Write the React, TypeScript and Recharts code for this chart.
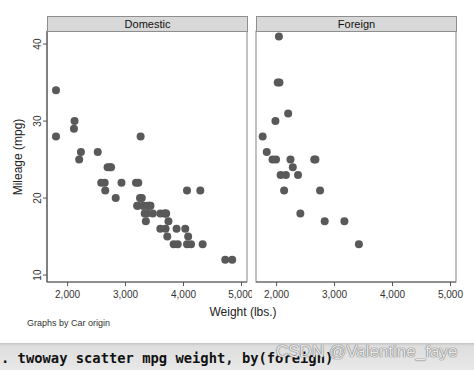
import React from 'react';
import { ScatterChart, Scatter, XAxis, YAxis, ReferenceArea } from 'recharts';

// Stata auto.dta, split by origin
const domesticWeight = [
  2930, 3350, 2640, 3250, 4080, 3670, 2230, 3280, 3880, 3400, 4330, 3900, 4290,
  2110, 3690, 3180, 3220, 2750, 3430, 2120, 3600, 3600, 3740, 1800, 2650, 4840,
  4720, 3830, 2580, 4060, 3720, 3370, 4130, 2830, 4060, 3310, 3300, 3690, 3370,
  2730, 4030, 3260, 1800, 2200, 2520, 3330, 3700, 3470, 3210, 3200, 3420, 2690,
];
const domesticMpg = [
  22, 17, 22, 20, 15, 18, 26, 20, 16, 19, 14, 14, 21,
  29, 16, 22, 22, 24, 19, 30, 18, 16, 17, 28, 21, 12,
  12, 14, 22, 14, 15, 18, 14, 20, 21, 19, 19, 18, 19,
  24, 16, 28, 34, 25, 26, 18, 18, 18, 19, 19, 19, 24,
];
const foreignWeight = [
  2830, 2070, 2650, 2370, 2020, 2280, 2750, 2130, 2240, 1760, 1980,
  3420, 1830, 2050, 2410, 2200, 2670, 2160, 2040, 1930, 1990, 3170,
];
const foreignMpg = [
  17, 23, 25, 23, 35, 24, 21, 21, 25, 28, 30,
  14, 26, 35, 18, 31, 25, 23, 41, 25, 25, 17,
];
const panelNames = ['Domestic', 'Foreign'];
const xTicks = [2000, 3000, 4000, 5000];
const yTicks = [10, 20, 30, 40];

const X_DOMAIN: [number, number] = [1645, 5095];
const Y_DOMAIN: [number, number] = [9.1, 41.7];
const FONT = '"Liberation Sans", Arial, sans-serif';
const DOT = '#595959';
const AXIS = '#555';

const domesticData = domesticWeight.map((w, i) => ({ weight: w, mpg: domesticMpg[i] }));
const foreignData = foreignWeight.map((w, i) => ({ weight: w, mpg: foreignMpg[i] }));

const Dot = (p: any) => <circle cx={p.cx} cy={p.cy} r={4} fill={DOT} />;

const YTick = (props: any) => {
  const { x, y, payload } = props;
  return (
    <text
      x={x}
      y={y}
      transform={`rotate(-90 ${x} ${y})`}
      textAnchor="middle"
      fontSize={10}
      fontFamily={FONT}
      fill="#333"
    >
      {payload.value}
    </text>
  );
};

const Header: React.FC<{ left: number; name: string }> = ({ left, name }) => (
  <div
    style={{
      position: 'absolute',
      left,
      top: 16,
      width: 201,
      height: 16,
      boxSizing: 'border-box',
      border: '1px solid #8e8e8e',
      background: '#d8d8d8',
      fontFamily: FONT,
      fontSize: 11,
      lineHeight: '14px',
      textAlign: 'center',
      color: '#111',
    }}
  >
    {name}
  </div>
);

const Panel: React.FC<{ data: { weight: number; mpg: number }[]; showY: boolean }> = ({ data, showY }) => (
  <ScatterChart
    width={showY ? 252 : 225}
    height={320}
    margin={{ top: 31, right: showY ? 5 : 15, bottom: 0, left: showY ? 0 : 10 }}
  >
    <ReferenceArea
      x1={X_DOMAIN[0]}
      x2={X_DOMAIN[1]}
      y1={Y_DOMAIN[0]}
      y2={Y_DOMAIN[1]}
      fill="none"
      stroke="#9a9a9a"
      strokeWidth={1.2}
    />
    <XAxis
      type="number"
      dataKey="weight"
      domain={X_DOMAIN}
      ticks={xTicks}
      allowDataOverflow
      height={38}
      tickSize={4}
      tickMargin={5}
      axisLine={{ stroke: AXIS, strokeWidth: 1.2 }}
      tickLine={{ stroke: AXIS }}
      tick={{ fontSize: 10, fill: '#333', fontFamily: FONT }}
      tickFormatter={(v: number) => v.toLocaleString('en-US')}
    />
    <YAxis
      type="number"
      dataKey="mpg"
      domain={Y_DOMAIN}
      ticks={yTicks}
      allowDataOverflow
      hide={!showY}
      width={47}
      tickSize={4}
      tickMargin={2}
      axisLine={{ stroke: AXIS, strokeWidth: 1.2 }}
      tickLine={{ stroke: AXIS }}
      tick={<YTick />}
    />
    <Scatter data={data} shape={Dot} isAnimationActive={false} />
  </ScatterChart>
);

export default function App() {
  return (
    <div style={{ position: 'absolute', left: 0, top: 0, width: 474, height: 370, background: '#fff', overflow: 'hidden' }}>
      <div style={{ position: 'absolute', left: 0, top: 0 }}>
        <Panel data={domesticData} showY />
      </div>
      <div style={{ position: 'absolute', left: 246, top: 0 }}>
        <Panel data={foreignData} showY={false} />
      </div>
      <Header left={47} name={panelNames[0]} />
      <Header left={256} name={panelNames[1]} />
      <div
        style={{
          position: 'absolute',
          left: 18,
          top: 157,
          transform: 'translate(-50%, -50%) rotate(-90deg)',
          whiteSpace: 'nowrap',
          fontFamily: FONT,
          fontSize: 12,
          color: '#222',
        }}
      >
        Mileage (mpg)
      </div>
      <div
        style={{
          position: 'absolute',
          left: 243,
          top: 312,
          transform: 'translate(-50%, -50%)',
          whiteSpace: 'nowrap',
          fontFamily: FONT,
          fontSize: 12,
          color: '#222',
        }}
      >
        Weight (lbs.)
      </div>
      <div
        style={{
          position: 'absolute',
          left: 27,
          top: 318,
          whiteSpace: 'nowrap',
          fontFamily: FONT,
          fontSize: 9,
          color: '#333',
        }}
      >
        Graphs by Car origin
      </div>
      <div
        style={{
          position: 'absolute',
          left: 0,
          top: 343,
          width: 474,
          height: 27,
          background: 'linear-gradient(#c4c4c4 0px, #dedede 3px, #e8e8e8 100%)',
        }}
      >
        <div
          style={{
            position: 'absolute',
            left: 1,
            top: 6,
            whiteSpace: 'pre',
            fontFamily: '"DejaVu Sans Mono", "Liberation Mono", monospace',
            fontWeight: 'bold',
            fontSize: 13.8,
            lineHeight: '18px',
            color: '#111',
          }}
        >
          . twoway scatter mpg weight, by(foreign)
        </div>
      </div>
      <div
        style={{
          position: 'absolute',
          left: 276,
          top: 342,
          whiteSpace: 'nowrap',
          fontFamily: FONT,
          fontSize: 17,
          lineHeight: '20px',
          color: 'rgba(252,252,252,0.85)',
          textShadow: '0 0 1px #777, 0 0 1px #777, 0 0 1px #999',
        }}
      >
        CSDN @Valentine_faye
      </div>
    </div>
  );
}
